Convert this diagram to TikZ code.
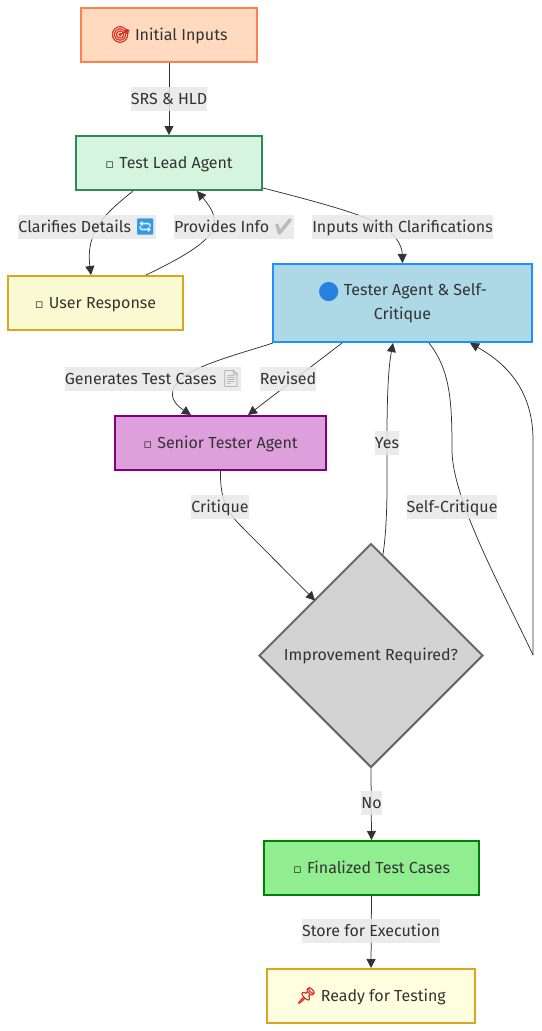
\documentclass[tikz,border=0pt]{standalone}
\usepackage{fontspec}
\setmainfont{Fira Sans}
\newfontfamily\emojifont{Noto Emoji}
\newfontfamily\emojibold[FakeBold=2.5]{Noto Emoji}
\newfontfamily\symfont{DejaVu Sans}
\usetikzlibrary{shapes.geometric,arrows.meta}
\definecolor{txt}{HTML}{333333}
\newcommand{\emo}[2]{{\emojifont\color[HTML]{#1}#2}}
\newcommand{\emob}[2]{{\emojibold\color[HTML]{#1}#2}}
\newcommand{\sq}{{\symfont\fontsize{13}{24}\selectfont ▫}\hspace{1pt}}
\newcommand{\bluedot}{\raisebox{-3.2pt}{\symfont\fontsize{25}{24}\selectfont\color[HTML]{2A80E0}●}}
\tikzset{
  box/.style={draw,line width=2pt,minimum height=54pt,inner sep=0pt,align=center,text=txt,font=\fontsize{16}{24}\selectfont},
  oneline/.style={box,text height=13pt,text depth=3pt},
  edge/.style={draw=txt,line width=0.75pt,-{Triangle[length=9pt,width=9pt]}},
  edgeplain/.style={draw=txt,line width=0.75pt},
  lbl/.style={fill=black!9,fill opacity=0.85,text opacity=1,text=txt,inner sep=0pt,minimum height=24pt,text height=13pt,text depth=3pt,font=\fontsize{16}{24}\selectfont}
}
\begin{document}
\begin{tikzpicture}[x=1pt,y=-1pt]
\useasboundingbox (0,0) rectangle (541,1031);
\node[oneline,minimum width=176pt,fill={rgb,255:red,255;green,218;blue,190},draw={rgb,255:red,255;green,127;blue,80}] (init) at (169,35) {\emob{D93025}{🎯} Initial Inputs};
\node[oneline,minimum width=186pt,fill={rgb,255:red,213;green,245;blue,222},draw={rgb,255:red,46;green,139;blue,87}] (lead) at (169,163) {\sq\ Test Lead Agent};
\node[oneline,minimum width=175pt,fill={rgb,255:red,250;green,250;blue,210},draw={rgb,255:red,218;green,165;blue,32}] (user) at (95.5,303) {\sq\ User Response};
\node[box,text height=12pt,text depth=27pt,minimum width=259pt,minimum height=78pt,fill={rgb,255:red,173;green,216;blue,230},draw={rgb,255:red,30;green,144;blue,255}] (tester) at (402.5,303) {\begin{tabular}[t]{@{}c@{}}\bluedot\ Tester Agent \& Self-\\Critique\end{tabular}};
\node[oneline,minimum width=211pt,fill={rgb,255:red,221;green,160;blue,221},draw={rgb,255:red,128;green,0;blue,128}] (senior) at (220.5,443) {\sq\ Senior Tester Agent};
\node[oneline,shape=diamond,aspect=1,minimum width=224pt,minimum height=224pt,fill={rgb,255:red,211;green,211;blue,211},draw={rgb,255:red,105;green,105;blue,105}] (dec) at (371,655.5) {Improvement Required?};
\node[oneline,minimum width=215pt,fill={rgb,255:red,144;green,238;blue,144},draw={rgb,255:red,0;green,128;blue,0}] (final) at (371.5,868) {\sq\ Finalized Test Cases};
\node[oneline,minimum width=208pt,fill={rgb,255:red,255;green,255;blue,224},draw={rgb,255:red,218;green,165;blue,32}] (ready) at (371,996) {\emob{D93025}{📌} Ready for Testing};
\coordinate (tip) at (533,655);
% connectors
\draw[edge] (init.south) -- (lead.north);
\draw[edge] ([xshift=-36pt]lead.south) .. controls (110,210) and (85,228) .. ([xshift=-4.5pt]user.north);
\draw[edge] ([xshift=50.5pt]user.north) .. controls (175,261) and (195,250) .. (207,238) .. controls (220,225) and (215,212) .. ([xshift=28pt]lead.south);
\draw[edge] ([yshift=-25pt]lead.east) .. controls (310,200) and (355,212) .. (375,222) .. controls (395,232) and (402,245) .. (tester.north);
\draw[edge] ([xshift=-129.5pt]tester.south) .. controls (245,352) and (215,360) .. (195,370) .. controls (170,382) and (165,398) .. ([xshift=-29.5pt]senior.north);
\draw[edge] ([xshift=-60.5pt]tester.south) -- ([xshift=27.5pt]senior.north);
\draw[edge] (senior.south) .. controls (220,495) and (225,510) .. (240,525) -- ([xshift=57pt,yshift=55pt]dec.west);
\draw[edge] ([xshift=12pt,yshift=-12pt]dec.north) .. controls (388,520) and (387,480) .. (387,440) .. controls (387,400) and (388,370) .. ([xshift=-9.5pt]tester.south);
\draw[edgeplain] ([xshift=26.5pt]tester.south) .. controls (450,370) and (452,400) .. (452,450) .. controls (452,500) and (505,595) .. (tip);
\draw[edge] (tip) .. controls (533,600) and (533,520) .. (533,440) .. controls (533,385) and (500,360) .. ([xshift=67.5pt]tester.south);
\draw[edge] (dec.south) -- (final.north);
\draw[edge] (final.south) -- (ready.north);
% labels
\node[lbl] (l1) at (169,99) {SRS \& HLD};
\node[lbl] (l2) at (87,227) {Clarifies Details \emo{2F9BE8}{🔄}};
\node[lbl] (l3) at (234,227) {Provides Info \emo{BBBBBB}{✔}};
\node[lbl] (l4) at (402.5,227) {Inputs with Clarifications};
\node[lbl] (l5) at (153,379) {Generates Test Cases \emo{999999}{📄}};
\node[lbl] (l6) at (288,379) {Revised};
\node[lbl] (l7) at (220,507) {Critique};
\node[lbl] (l8) at (387,443) {Yes};
\node[lbl] (l9) at (452,507) {Self-Critique};
\node[lbl] (l10) at (371.5,803) {No};
\node[lbl] (l11) at (371,931) {Store for Execution};
\end{tikzpicture}
\end{document}
